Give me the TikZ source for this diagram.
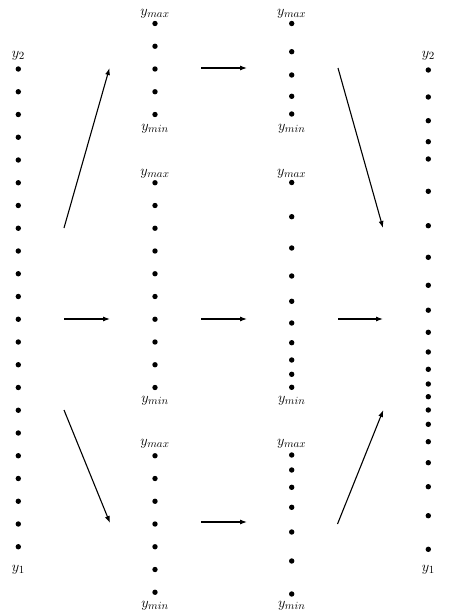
\documentclass[tikz,border=0pt]{standalone}
\usetikzlibrary{arrows.meta}
\begin{document}
\begin{tikzpicture}[x=1pt,y=-1pt,
  dot/.style={circle,fill=black,inner sep=0pt,minimum size=5.4pt},
  lbl/.style={inner sep=0pt,font=\fontsize{15.5}{18}\selectfont},
  arr/.style={-{Latex[length=7pt,width=5pt]},line width=1.1pt}]
\useasboundingbox (0,0) rectangle (474,615);
% column 1
\foreach \k in {0,...,21} \node[dot] (a\k) at (18.3,{69+22.75*\k}) {};
\node[lbl] (a-top) at (18.3,55.7) {$y_2$};
\node[lbl] (a-bot) at (18.3,570) {$y_1$};
% column 2
\foreach \k in {-2,...,2} \node[dot] (bt\k) at (155,{69+22.75*\k}) {};
\foreach \k in {5,...,14} \node[dot] (bm\k) at (155,{69+22.75*\k}) {};
\foreach \k in {17,...,23} \node[dot] (bb\k) at (155,{69+22.75*\k}) {};
\node[lbl] (bt-max) at (155,14) {$y_{max}$};
\node[lbl] (bt-min) at (155,128.3) {$y_{min}$};
\node[lbl] (bm-max) at (155,174) {$y_{max}$};
\node[lbl] (bm-min) at (155,400.7) {$y_{min}$};
\node[lbl] (bb-max) at (155,443.3) {$y_{max}$};
\node[lbl] (bb-min) at (155,606) {$y_{min}$};
% column 3
\foreach \y [count=\i] in {23.5,51.7,75,96.3,114} \node[dot] (ct\i) at (291.7,\y) {};
\foreach \y [count=\i] in {182.5,216.7,248,276,301.3,323,342.7,360,374.3,387.3} \node[dot] (cm\i) at (291.7,\y) {};
\foreach \y [count=\i] in {455,470,487.3,507.3,532,561,594} \node[dot] (cb\i) at (291.7,\y) {};
\node[lbl] (ct-max) at (291.7,14) {$y_{max}$};
\node[lbl] (ct-min) at (291.7,128.3) {$y_{min}$};
\node[lbl] (cm-max) at (291.7,174) {$y_{max}$};
\node[lbl] (cm-min) at (291.7,400.7) {$y_{min}$};
\node[lbl] (cb-max) at (291.7,443.3) {$y_{max}$};
\node[lbl] (cb-min) at (291.7,606) {$y_{min}$};
% column 4
\foreach \y [count=\i] in {70,97,120.7,141.7,159,191.3,225.7,257.3,285.3,310.2,332.3,352,369.3,384,396.7,410,424.3,441.7,462.7,486.7,515.7,549.3} \node[dot] (d\i) at (428.3,\y) {};
\node[lbl] (d-top) at (428.3,55.7) {$y_2$};
\node[lbl] (d-bot) at (428.3,570) {$y_1$};
% arrow end points
\coordinate (p1s) at (64,228);  \coordinate (p1e) at (109.5,68);
\coordinate (p2s) at (64,319);  \coordinate (p2e) at (110,319);
\coordinate (p3s) at (64,410);  \coordinate (p3e) at (110,523);
\coordinate (q1s) at (201,68);  \coordinate (q1e) at (247,68);
\coordinate (q2s) at (201,319); \coordinate (q2e) at (247,319);
\coordinate (q3s) at (201,522); \coordinate (q3e) at (247,522);
\coordinate (r1s) at (338,68);  \coordinate (r1e) at (383,228);
\coordinate (r2s) at (338,319); \coordinate (r2e) at (383,319);
\coordinate (r3s) at (337.5,524); \coordinate (r3e) at (383.3,410);
\foreach \a in {p1,p2,p3,q1,q2,q3,r1,r2,r3} \draw[arr] (\a s) -- (\a e);
\end{tikzpicture}
\end{document}
